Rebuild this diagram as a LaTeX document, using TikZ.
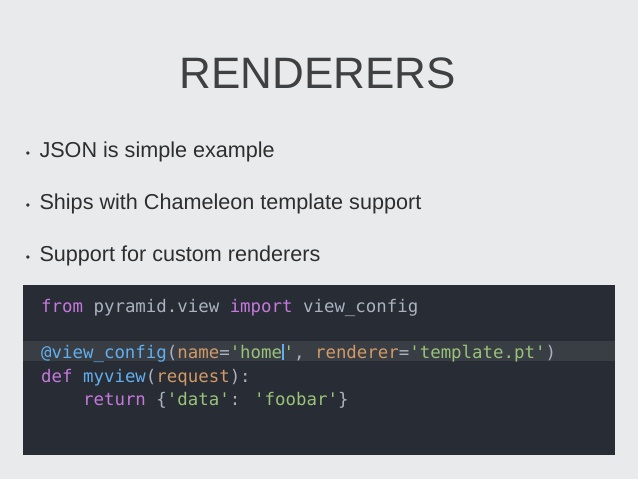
\documentclass[tikz,border=0pt]{standalone}
\usepackage{fontspec}
\setmainfont{Liberation Sans}
\newfontfamily\codefont{DejaVu Sans Mono}
\begin{document}
\begin{tikzpicture}[x=1pt,y=1pt,
  bul/.style={anchor=base west,font=\fontsize{21.6}{24}\selectfont,text=black!82},
  dot/.style={anchor=base,font=\fontsize{12}{14}\selectfont,text=black!80},
  code/.style={anchor=base west,font=\codefont\fontsize{17.4}{20}\selectfont,inner sep=0}]
\definecolor{bg}{HTML}{E9EAEC}
\definecolor{cb}{HTML}{282C34}
\definecolor{kw}{HTML}{C678DD}
\definecolor{tx}{HTML}{ABB2BF}
\definecolor{fn}{HTML}{61AFEF}
\definecolor{st}{HTML}{98C379}
\definecolor{ar}{HTML}{D19A66}
\fill[bg] (0,0) rectangle (638,-479);
\useasboundingbox (0,0) rectangle (638,-479);
\node[font=\fontsize{44}{50}\selectfont,text=black!75] (title) at (318,-73) {RENDERERS};
\foreach \y/\t [count=\i] in {157/JSON is simple example,209/Ships with Chameleon template support,261/Support for custom renderers}{
  \node[dot] (d\i) at (28,-\y) {\textbullet};
  \node[bul] (b\i) at (36,-\y) {\t};
}
\fill[cb] (23,-285) rectangle (615,-455);
\fill[white!8!cb] (23,-341) rectangle (615,-361);
\node[code] (l1) at (41,-312) {\textcolor{kw}{from} \textcolor{tx}{pyramid.view} \textcolor{kw}{import} \textcolor{tx}{view\_config}};
\node[code] (l2) at (41,-358) {\textcolor{fn}{@view\_config}\textcolor{tx}{(}\textcolor{ar}{name}\textcolor{tx}{=}\textcolor{st}{'home}\textcolor{fn}{\rule[-2pt]{1.5pt}{16pt}}\textcolor{st}{'}\textcolor{tx}{,} \textcolor{ar}{renderer}\textcolor{tx}{=}\textcolor{st}{'template.pt'}\textcolor{tx}{)}};
\node[code] (l3) at (41,-382) {\textcolor{kw}{def} \textcolor{fn}{myview}\textcolor{tx}{(}\textcolor{ar}{request}\textcolor{tx}{):}};
\node[code] (l4) at (41,-405) {\textcolor{kw}{\ \ \ \ return} \textcolor{tx}{\{}\textcolor{st}{'data'}\textcolor{tx}{:} \textcolor{st}{'foobar'}\textcolor{tx}{\}}};
\end{tikzpicture}
\end{document}
